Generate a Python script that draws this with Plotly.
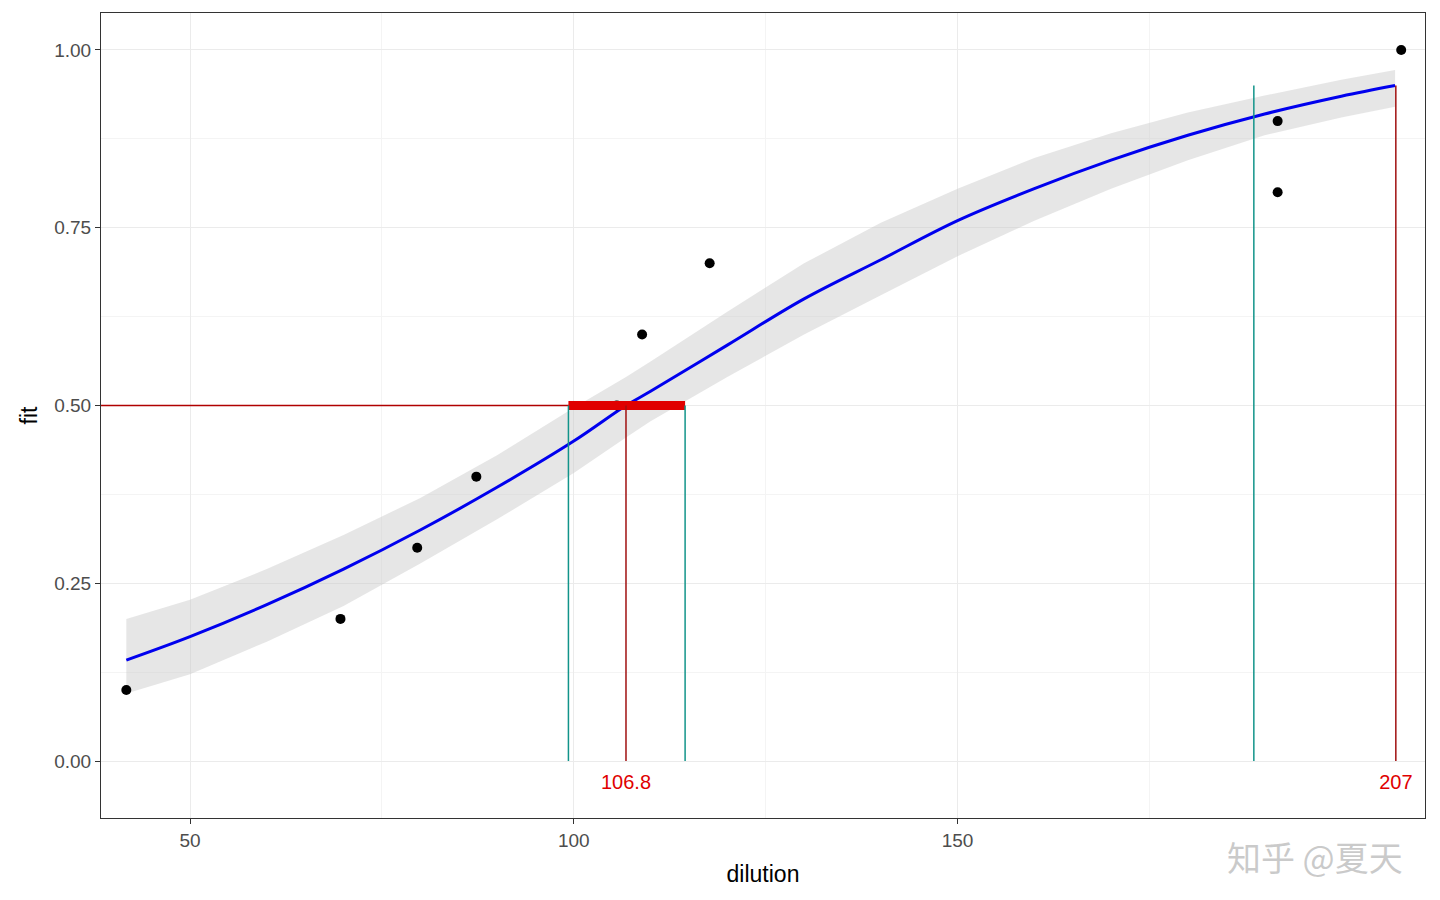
import plotly.graph_objects as go

pt_x = [41.7, 69.6, 79.6, 87.3, 105.6, 108.9, 117.7, 191.7, 191.7, 207.8]
pt_y = [0.1, 0.2, 0.3, 0.4, 0.5, 0.6, 0.7, 0.9, 0.8, 1.0]

cx = [41.7, 50, 60, 70, 80, 90, 100, 106.8, 110, 120, 130, 140, 150, 160, 170, 180, 190, 200, 207]
cy = [0.142, 0.175, 0.22, 0.27, 0.325, 0.385, 0.45, 0.5, 0.52, 0.585, 0.65, 0.705, 0.76, 0.805, 0.845, 0.88, 0.91, 0.935, 0.95]
up = [0.2, 0.227, 0.27, 0.318, 0.37, 0.43, 0.497, 0.54, 0.562, 0.632, 0.7, 0.757, 0.805, 0.848, 0.883, 0.912, 0.936, 0.958, 0.972]
lo = [0.095, 0.122, 0.168, 0.218, 0.278, 0.34, 0.405, 0.455, 0.478, 0.54, 0.6, 0.655, 0.71, 0.76, 0.805, 0.845, 0.88, 0.905, 0.92]

ec50, ec50_lo, ec50_hi = 106.8, 99.3, 114.5
ec95, ec95_lo = 207.1, 188.6
xmin, xmax = 38.4, 210.9

fig = go.Figure()
fig.add_trace(go.Scatter(x=cx + cx[::-1], y=up + lo[::-1], fill="toself", fillcolor="rgba(200,200,200,0.45)",
                         line=dict(width=0), hoverinfo="skip"))
fig.add_trace(go.Scatter(x=cx, y=cy, mode="lines", line=dict(color="#0000ee", width=3, shape="spline")))
fig.add_trace(go.Scatter(x=pt_x, y=pt_y, mode="markers", marker=dict(color="black", size=10)))
fig.add_trace(go.Scatter(x=[xmin, ec50], y=[0.5, 0.5], mode="lines", line=dict(color="#b00000", width=1.5)))
fig.add_trace(go.Scatter(x=[ec50_lo, ec50_hi], y=[0.5, 0.5], mode="lines", line=dict(color="#e00000", width=9)))
for xv, yv, c in [(ec50_lo, 0.5, "#12948a"), (ec50_hi, 0.5, "#12948a"), (ec50, 0.5, "#a01010"),
                  (ec95_lo, 0.95, "#12948a"), (ec95, 0.95, "#a01010")]:
    fig.add_trace(go.Scatter(x=[xv, xv], y=[0, yv], mode="lines", line=dict(color=c, width=1.5)))
fig.add_trace(go.Scatter(x=[ec50, ec95], y=[-0.032, -0.032], mode="text", text=["106.8", "207"],
                         textfont=dict(color="#e00000", size=20, family="Liberation Sans")))

axis = dict(showline=True, linecolor="#333", mirror=True, ticks="outside", ticklen=5, tickcolor="#333",
            gridcolor="#ebebeb", gridwidth=1.2, zeroline=False,
            tickfont=dict(size=19, color="#4d4d4d"),
            minor=dict(showgrid=True, gridcolor="#f4f4f4", gridwidth=1))
fig.update_layout(
    width=1440, height=900, showlegend=False, plot_bgcolor="white", paper_bgcolor="white",
    margin=dict(l=93, r=23, t=5, b=90), font=dict(family="Liberation Sans"),
    xaxis=dict(axis, range=[xmin, xmax], tickvals=[50, 100, 150],
               title=dict(text="dilution", font=dict(size=23, color="black"), standoff=16)),
    yaxis=dict(axis, range=[-0.08, 1.052], tickvals=[0, 0.25, 0.5, 0.75, 1.0], tickformat=".2f",
               title=dict(text="fit", font=dict(size=23, color="black"), standoff=10)),
)
fig.update_xaxes(minor=dict(tickvals=[75, 125, 175]))
fig.update_yaxes(minor=dict(tickvals=[0.125, 0.375, 0.625, 0.875]))
fig.add_annotation(x=0.985, y=-0.015, xref="paper", yref="paper", xanchor="right", yanchor="top",
                   text="知乎 @夏天", showarrow=False,
                   font=dict(family="Noto Sans CJK SC", size=34, color="rgba(150,150,150,0.5)"))
fig.write_html("out.html")
